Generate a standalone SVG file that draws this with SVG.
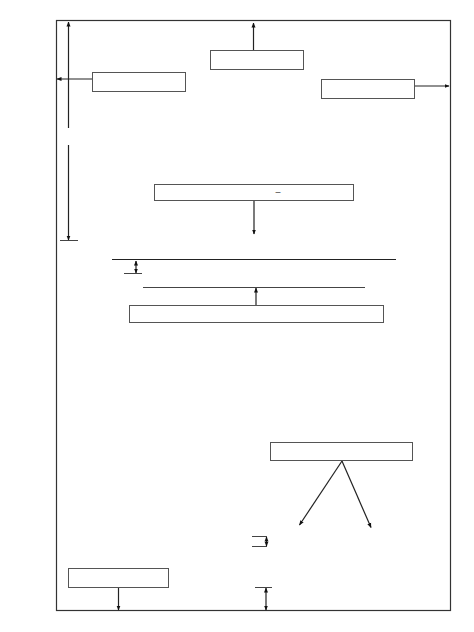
<svg xmlns="http://www.w3.org/2000/svg" width="474" height="632" viewBox="0 0 474 632">
<style>
.box{fill:#fff;stroke:#555;stroke-width:1}
.ln{stroke:#222;stroke-width:1.2;fill:none}
.thin{stroke:#444;stroke-width:1;fill:none}
.t{font-family:"Liberation Sans",Arial,sans-serif;font-size:9px;fill:#333}
</style>
<defs>
<marker id="ah" viewBox="0 0 10 10" refX="9" refY="5" markerWidth="5" markerHeight="5" orient="auto-start-reverse" markerUnits="userSpaceOnUse">
<path d="M0,1 L10,5 L0,9 z" fill="#111"/>
</marker>
</defs>
<rect x="0" y="0" width="474" height="632" fill="#fff"/>
<rect id="frame" x="56.5" y="20.5" width="394" height="590" fill="none" stroke="#333" stroke-width="1.2"/>
<g id="connectors">
<line class="ln" x1="68.5" y1="128" x2="68.5" y2="22" marker-end="url(#ah)"/>
<line class="ln" x1="68.5" y1="145" x2="68.5" y2="240" marker-end="url(#ah)"/>
<line class="thin" x1="60" y1="240.5" x2="78" y2="240.5"/>
<line class="ln" x1="92" y1="79" x2="57" y2="79" marker-end="url(#ah)"/>
<line class="ln" x1="253.5" y1="50" x2="253.5" y2="23" marker-end="url(#ah)"/>
<line class="ln" x1="414" y1="86" x2="449" y2="86" marker-end="url(#ah)"/>
<line class="ln" x1="254" y1="200" x2="254" y2="234" marker-end="url(#ah)"/>
<line class="ln" x1="112" y1="259.5" x2="396" y2="259.5"/>
<line class="ln" x1="136" y1="261" x2="136" y2="273" marker-start="url(#ah)" marker-end="url(#ah)"/>
<line class="thin" x1="124" y1="273.5" x2="142" y2="273.5"/>
<line class="thin" x1="143" y1="287.5" x2="365" y2="287.5"/>
<line class="ln" x1="256" y1="305" x2="256" y2="288" marker-end="url(#ah)"/>
<line class="ln" x1="342" y1="461" x2="299.5" y2="525" marker-end="url(#ah)"/>
<line class="ln" x1="342" y1="461" x2="371" y2="527.5" marker-end="url(#ah)"/>
<line class="thin" x1="252" y1="536.5" x2="267" y2="536.5"/>
<line class="thin" x1="252" y1="546.5" x2="267" y2="546.5"/>
<line class="ln" x1="266.5" y1="537" x2="266.5" y2="546" marker-start="url(#ah)" marker-end="url(#ah)"/>
<line class="ln" x1="118.5" y1="588" x2="118.5" y2="610" marker-end="url(#ah)"/>
<line class="thin" x1="255" y1="587.5" x2="272" y2="587.5"/>
<line class="ln" x1="266" y1="588" x2="266" y2="610" marker-start="url(#ah)" marker-end="url(#ah)"/>
</g>
<g id="node1"><rect class="box" x="92.5" y="72.5" width="93" height="19"/></g>
<g id="node2"><rect class="box" x="210.5" y="50.5" width="93" height="19"/></g>
<g id="node3"><rect class="box" x="321.5" y="79.5" width="93" height="19"/></g>
<g id="node4"><rect class="box" x="154.5" y="184.5" width="199" height="16"/><text class="t" x="278" y="195" text-anchor="middle">–</text></g>
<g id="node5"><rect class="box" x="129.5" y="305.5" width="254" height="17"/></g>
<g id="node6"><rect class="box" x="270.5" y="442.5" width="142" height="18"/></g>
<g id="node7"><rect class="box" x="68.5" y="568.5" width="100" height="19"/></g>
</svg>
